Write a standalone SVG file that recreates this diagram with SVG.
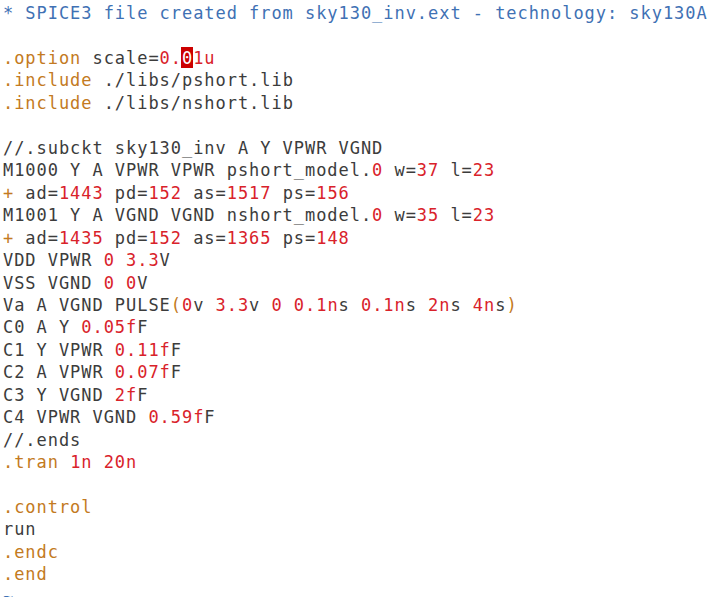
<svg xmlns="http://www.w3.org/2000/svg" width="725" height="597" viewBox="0 0 725 597">
<style>
text{font-family:"DejaVu Sans Mono",monospace;font-size:17px;letter-spacing:0.95px;fill:#3c3c3c;white-space:pre}
.c{fill:#3f71b4}.k{fill:#c37a22}.n{fill:#d9222a}.w{fill:#ffffff}
</style>
<rect width="725" height="597" fill="#ffffff"/>
<rect x="181" y="47" width="12" height="21" fill="#cc0000"/>
<g id="code" xml:space="preserve">
<text x="3" y="19" class="c">* SPICE3 file created from sky130_inv.ext - technology: sky130A</text>
<text x="3" y="64"><tspan class="k">.option</tspan> scale=<tspan class="n">0.</tspan><tspan class="w">0</tspan><tspan class="n">1u</tspan></text>
<text x="3" y="86"><tspan class="k">.include</tspan> ./libs/pshort.lib</text>
<text x="3" y="109"><tspan class="k">.include</tspan> ./libs/nshort.lib</text>
<text x="3" y="154">//.subckt sky130_inv A Y VPWR VGND</text>
<text x="3" y="176">M1000 Y A VPWR VPWR pshort_model.<tspan class="n">0</tspan> w=<tspan class="n">37</tspan> l=<tspan class="n">23</tspan></text>
<text x="3" y="199"><tspan class="k">+</tspan> ad=<tspan class="n">1443</tspan> pd=<tspan class="n">152</tspan> as=<tspan class="n">1517</tspan> ps=<tspan class="n">156</tspan></text>
<text x="3" y="221">M1001 Y A VGND VGND nshort_model.<tspan class="n">0</tspan> w=<tspan class="n">35</tspan> l=<tspan class="n">23</tspan></text>
<text x="3" y="244"><tspan class="k">+</tspan> ad=<tspan class="n">1435</tspan> pd=<tspan class="n">152</tspan> as=<tspan class="n">1365</tspan> ps=<tspan class="n">148</tspan></text>
<text x="3" y="266">VDD VPWR <tspan class="n">0</tspan> <tspan class="n">3.3</tspan>V</text>
<text x="3" y="289">VSS VGND <tspan class="n">0</tspan> <tspan class="n">0</tspan>V</text>
<text x="3" y="311">Va A VGND PULSE<tspan class="k">(</tspan><tspan class="n">0</tspan>v <tspan class="n">3.3</tspan>v <tspan class="n">0</tspan> <tspan class="n">0.1n</tspan>s <tspan class="n">0.1n</tspan>s <tspan class="n">2n</tspan>s <tspan class="n">4n</tspan>s<tspan class="k">)</tspan></text>
<text x="3" y="333">C0 A Y <tspan class="n">0.05f</tspan>F</text>
<text x="3" y="356">C1 Y VPWR <tspan class="n">0.11f</tspan>F</text>
<text x="3" y="378">C2 A VPWR <tspan class="n">0.07f</tspan>F</text>
<text x="3" y="401">C3 Y VGND <tspan class="n">2f</tspan>F</text>
<text x="3" y="423">C4 VPWR VGND <tspan class="n">0.59f</tspan>F</text>
<text x="3" y="446">//.ends</text>
<text x="3" y="468"><tspan class="k">.tran</tspan> <tspan class="n">1n</tspan> <tspan class="n">20n</tspan></text>
<text x="3" y="513" class="k">.control</text>
<text x="3" y="535">run</text>
<text x="3" y="558" class="k">.endc</text>
<text x="3" y="580" class="k">.end</text>
<text x="3" y="603" class="c">~</text>
</g>
</svg>
